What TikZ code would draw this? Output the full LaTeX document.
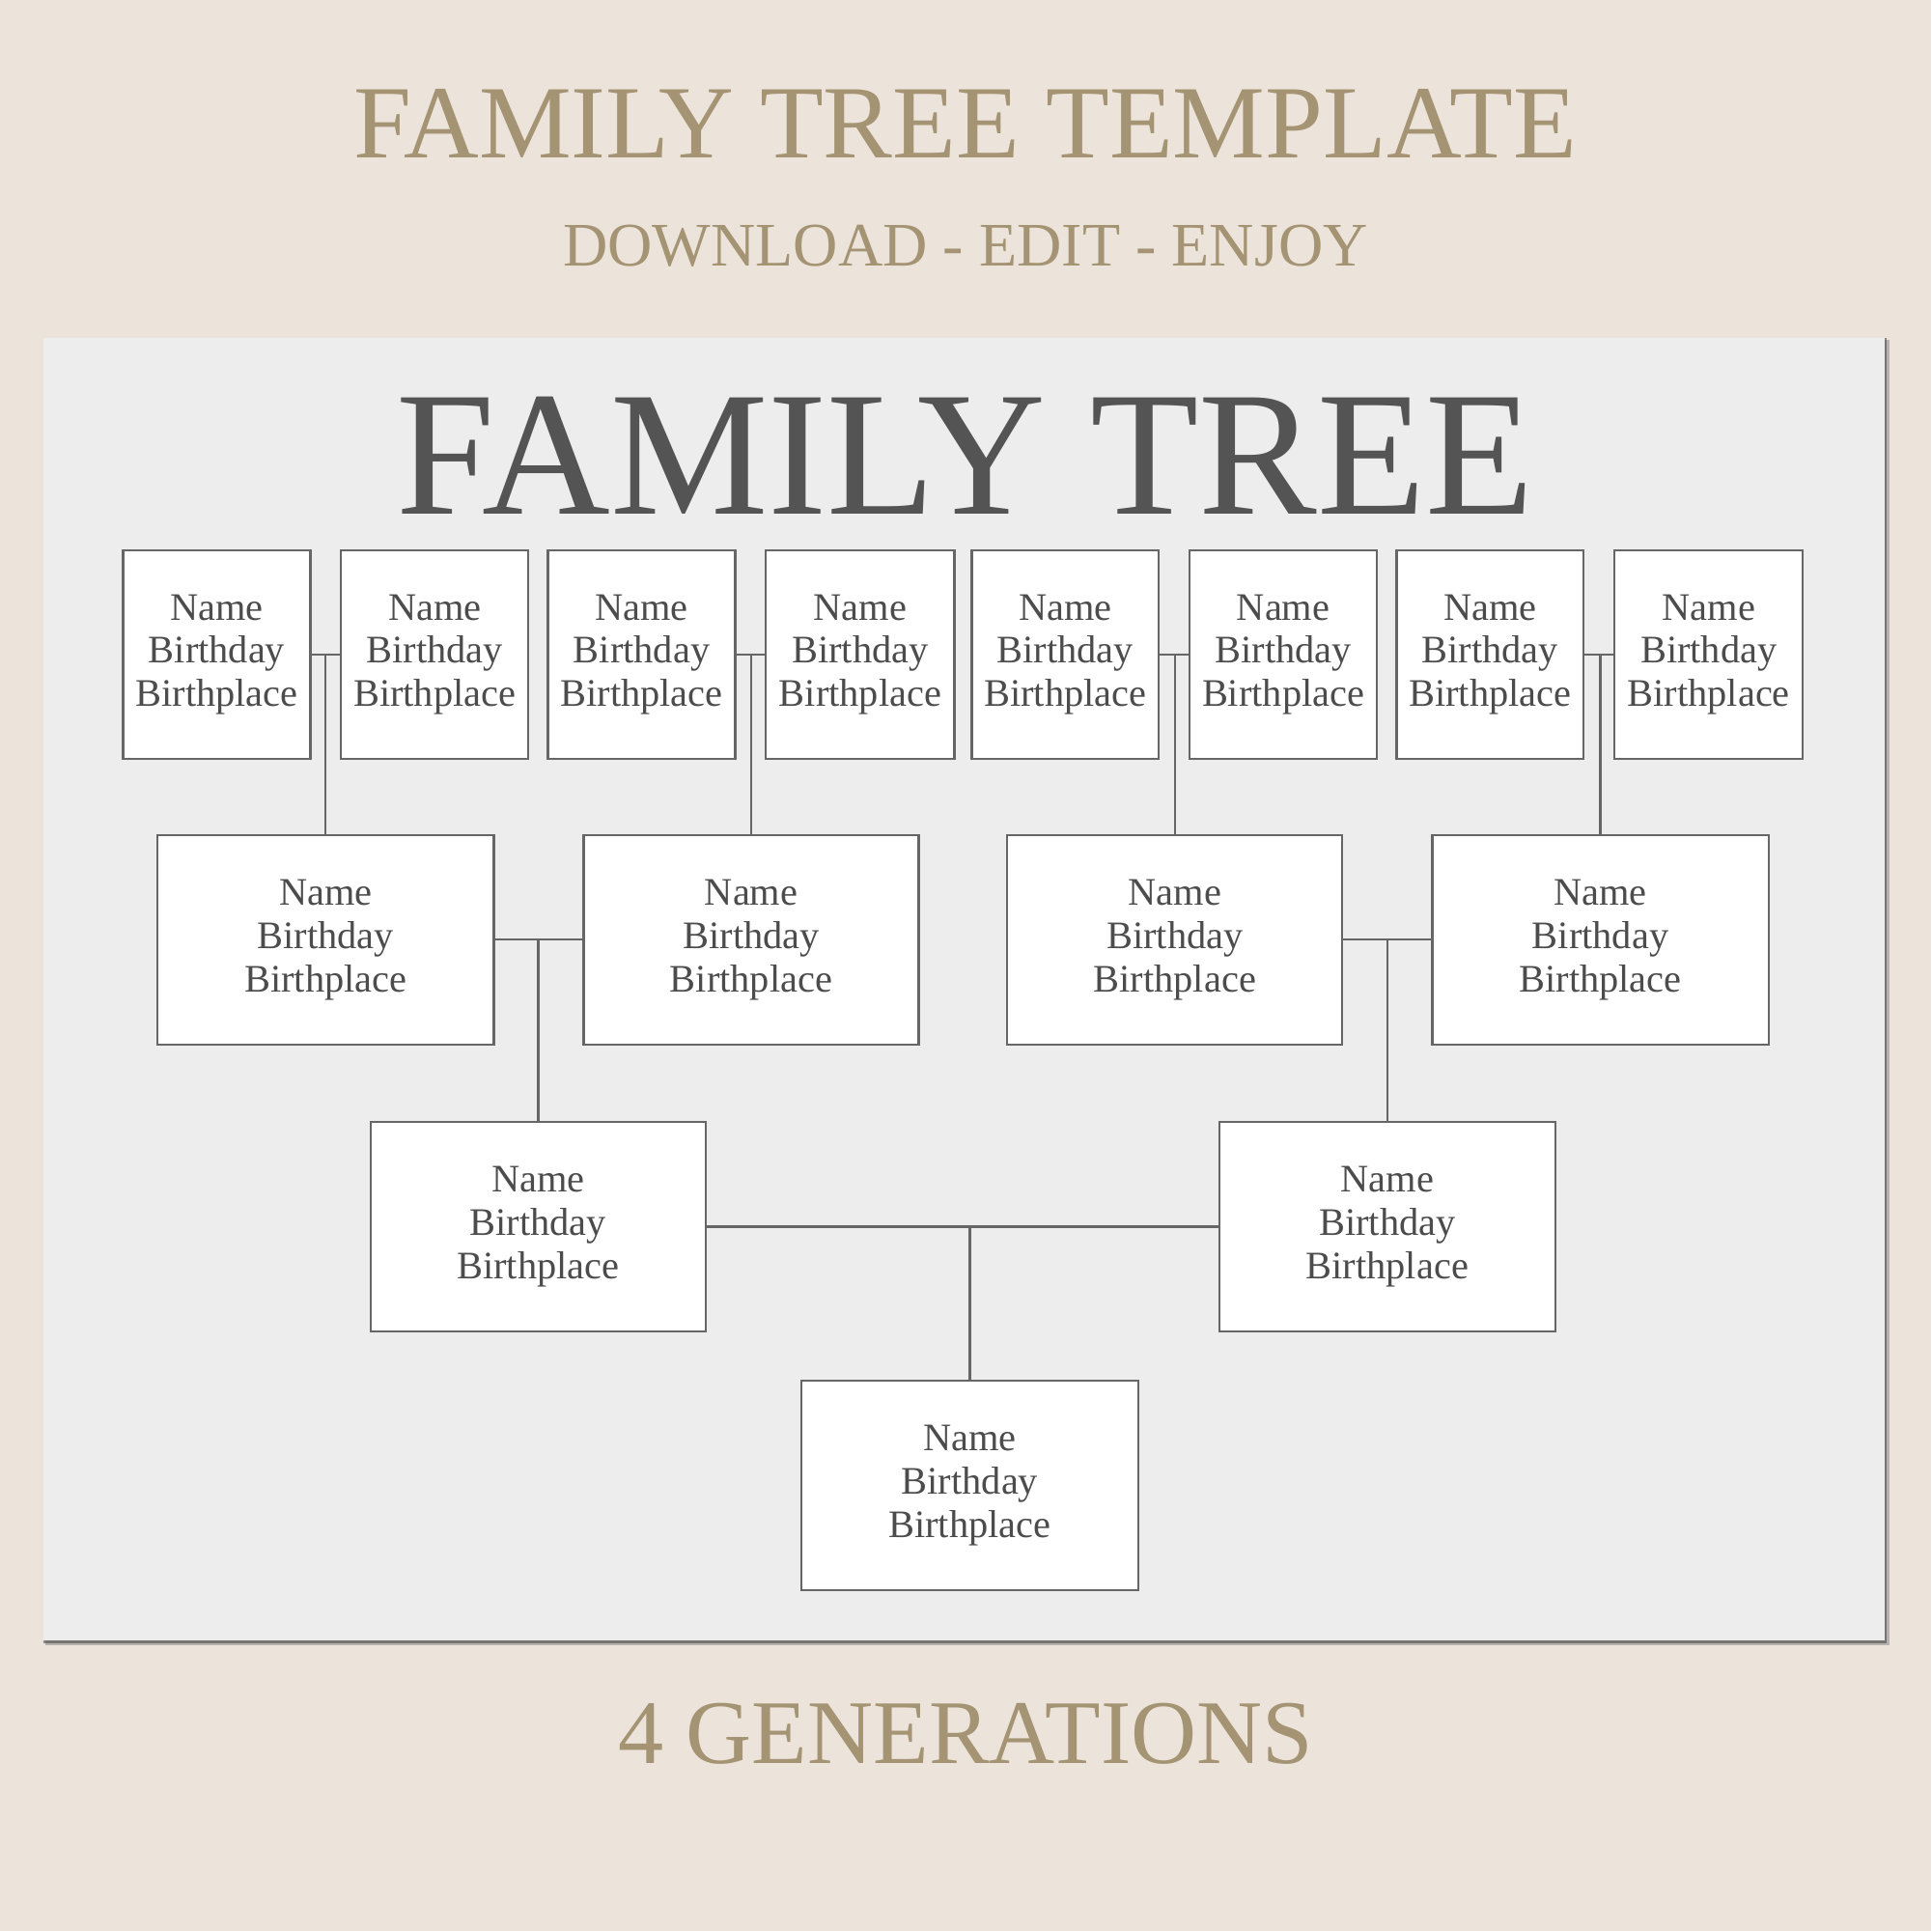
\documentclass[tikz,border=0pt]{standalone}
\usepackage{fontspec}
\setmainfont{Liberation Serif}
\newfontfamily\boxfont{Liberation Serif}
\begin{document}
\begin{tikzpicture}[x=0.01cm,y=-0.01cm,
  pbox/.style={draw=black!60,line width=0.5pt,fill=white,align=center,inner sep=0pt,
    font=\boxfont\fontsize{9}{10}\selectfont,text=black!70},
  link/.style={draw=black!60,line width=0.5pt}]
\definecolor{bg}{HTML}{ECE4DA}
\definecolor{gold}{HTML}{A49474}
\fill[bg] (0,0) rectangle (1568,1568);
\useasboundingbox (0,0) rectangle (1568,1568);
\fill[black!50,opacity=0.5] (37,276) rectangle (1534,1336);
\fill[black!70,opacity=0.6] (35,274) rectangle (1532,1334);
\fill[black!7] (35,274) rectangle (1530,1332);
\node[text=gold,font=\fontsize{24}{26}\selectfont] (t1) at (784,100) {FAMILY TREE TEMPLATE};
\node[text=gold,font=\fontsize{14.3}{16}\selectfont] (t2) at (784,200) {DOWNLOAD - EDIT - ENJOY};
\node[text=gold,font=\fontsize{21}{22}\selectfont] (t3) at (784,1408) {4 GENERATIONS};
\node[text=black!67,font=\fontsize{41}{41}\selectfont] (t4) at (784,370) {FAMILY TREE};
\foreach \i/\a/\b in {1/100/252,2/277/429,3/445/597,4/622/775,5/789/941,6/966/1118,7/1134/1286,8/1311/1464}{
  \node[pbox,minimum width={(\b-\a)*0.01cm},minimum height=1.69cm] (a\i) at ({(\a+\b)/2},531.5) {Name\\Birthday\\Birthplace};
}
\foreach \i/\a/\b in {1/128/401,2/474/746,3/818/1090,4/1163/1436}{
  \node[pbox,minimum width={(\b-\a)*0.01cm},minimum height=1.70cm] (b\i) at ({(\a+\b)/2},763) {Name\\Birthday\\Birthplace};
}
\node[pbox,minimum width=2.72cm,minimum height=1.70cm] (c1) at (437,996) {Name\\Birthday\\Birthplace};
\node[pbox,minimum width=2.73cm,minimum height=1.70cm] (c2) at (1126.5,996) {Name\\Birthday\\Birthplace};
\node[pbox,minimum width=2.73cm,minimum height=1.70cm] (d1) at (787.5,1206) {Name\\Birthday\\Birthplace};
\foreach \p/\q/\c in {a1/a2/b1,a3/a4/b2,a5/a6/b3,a7/a8/b4,b1/b2/c1,b3/b4/c2,c1/c2/d1}{
  \draw[link] (\p.east) -- (\q.west);
  \draw[link] (\c.north) -- (\c.north |- \p.east);
}
\end{tikzpicture}
\end{document}
